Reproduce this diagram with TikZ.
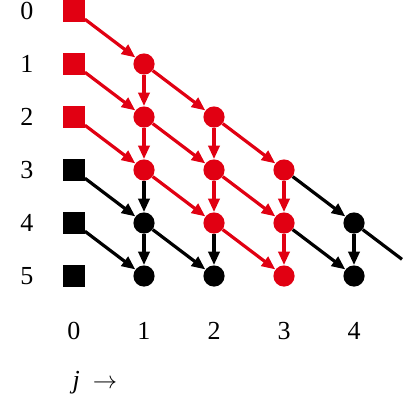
\documentclass[tikz,border=0pt]{standalone}
\usepackage{fontspec}
\setmainfont{Liberation Serif}
\usetikzlibrary{arrows.meta}
\definecolor{hot}{RGB}{225,0,18}
\tikzset{
  cell/.style={fill=#1, minimum size=0.53cm, inner sep=0pt},
  knot/.style={circle, fill=#1, minimum size=0.53cm, inner sep=0pt},
  lnk/.style={draw=#1, line width=0.08cm, -{Triangle[length=0.34cm,width=0.28cm]}},
  lbl/.style={font=\fontsize{18.5}{22}\selectfont, inner sep=0pt}
}

\begin{document}
\begin{tikzpicture}
  \def\dx{1.75}
  \def\dy{1.325}
  \useasboundingbox (-1.85,0.275) rectangle (8.225,-9.8);
  % row numbers
  \node[lbl] (r0) at (-1.175,0) {0};
  \node[lbl] (r1) at (-1.175,-\dy) {1};
  \node[lbl] (r2) at (-1.175,-2*\dy) {2};
  \node[lbl] (r3) at (-1.175,-3*\dy) {3};
  \node[lbl] (r4) at (-1.175,-4*\dy) {4};
  \node[lbl] (r5) at (-1.175,-5*\dy) {5};
  % column numbers
  \node[lbl] (b0) at (0,-8) {0};
  \node[lbl] (b1) at (\dx,-8) {1};
  \node[lbl] (b2) at (2*\dx,-8) {2};
  \node[lbl] (b3) at (3*\dx,-8) {3};
  \node[lbl] (b4) at (4*\dx,-8) {4};
  \node[lbl] (jlab) at (0.52,-9.3) {\textit{j}\ \ $\rightarrow$};
  % sources
  \node[cell=hot] (s0) at (0,0) {};
  \node[cell=hot] (s1) at (0,-\dy) {};
  \node[cell=hot] (s2) at (0,-2*\dy) {};
  \node[cell=black] (s3) at (0,-3*\dy) {};
  \node[cell=black] (s4) at (0,-4*\dy) {};
  \node[cell=black] (s5) at (0,-5*\dy) {};
  % grid points
  \node[knot=hot] (c11) at (\dx,-\dy) {};
  \node[knot=hot] (c21) at (\dx,-2*\dy) {};
  \node[knot=hot] (c31) at (\dx,-3*\dy) {};
  \node[knot=black] (c41) at (\dx,-4*\dy) {};
  \node[knot=black] (c51) at (\dx,-5*\dy) {};
  \node[knot=hot] (c22) at (2*\dx,-2*\dy) {};
  \node[knot=hot] (c32) at (2*\dx,-3*\dy) {};
  \node[knot=hot] (c42) at (2*\dx,-4*\dy) {};
  \node[knot=black] (c52) at (2*\dx,-5*\dy) {};
  \node[knot=hot] (c33) at (3*\dx,-3*\dy) {};
  \node[knot=hot] (c43) at (3*\dx,-4*\dy) {};
  \node[knot=hot] (c53) at (3*\dx,-5*\dy) {};
  \node[knot=black] (c44) at (4*\dx,-4*\dy) {};
  \node[knot=black] (c54) at (4*\dx,-5*\dy) {};
  \coordinate (out) at (4*\dx+1.2,-4*\dy-0.908);
  % black links
  \draw[lnk=black] (s3) -- (c41);
  \draw[lnk=black] (s4) -- (c51);
  \draw[lnk=black] (c31) -- (c41);
  \draw[lnk=black] (c41) -- (c51);
  \draw[lnk=black] (c41) -- (c52);
  \draw[lnk=black] (c42) -- (c52);
  \draw[lnk=black] (c33) -- (c44);
  \draw[lnk=black] (c43) -- (c54);
  \draw[lnk=black] (c44) -- (c54);
  \draw[lnk=black,-] (c44) -- (out);
  % red links
  \draw[lnk=hot] (s0) -- (c11);
  \draw[lnk=hot] (s1) -- (c21);
  \draw[lnk=hot] (s2) -- (c31);
  \draw[lnk=hot] (c11) -- (c21);
  \draw[lnk=hot] (c21) -- (c31);
  \draw[lnk=hot] (c11) -- (c22);
  \draw[lnk=hot] (c21) -- (c32);
  \draw[lnk=hot] (c31) -- (c42);
  \draw[lnk=hot] (c22) -- (c32);
  \draw[lnk=hot] (c32) -- (c42);
  \draw[lnk=hot] (c22) -- (c33);
  \draw[lnk=hot] (c32) -- (c43);
  \draw[lnk=hot] (c42) -- (c53);
  \draw[lnk=hot] (c33) -- (c43);
  \draw[lnk=hot] (c43) -- (c53);
\end{tikzpicture}
\end{document}
